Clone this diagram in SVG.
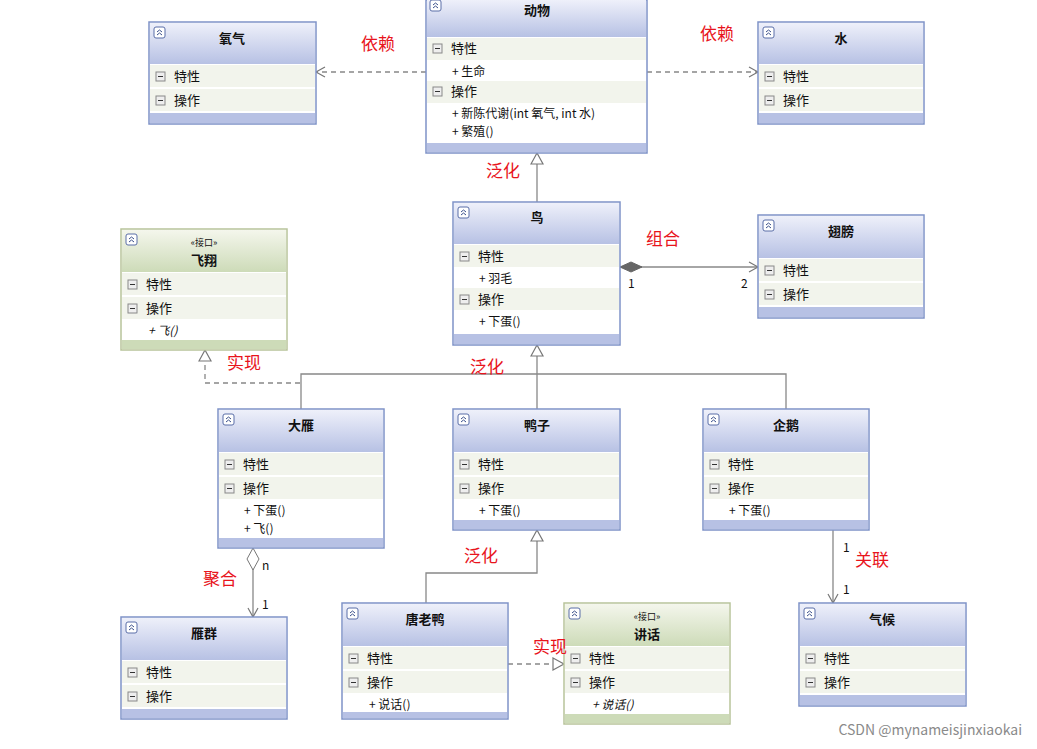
<svg xmlns="http://www.w3.org/2000/svg" width="1037" height="749" viewBox="0 0 1037 749">
<defs>
<linearGradient id="hb" x1="0" y1="0" x2="0" y2="1"><stop offset="0" stop-color="#eef0fa"/><stop offset="1" stop-color="#b7c1e4"/></linearGradient>
<linearGradient id="hg" x1="0" y1="0" x2="0" y2="1"><stop offset="0" stop-color="#f4f6ec"/><stop offset="1" stop-color="#cddbb8"/></linearGradient>
<marker id="open" markerWidth="12" markerHeight="12" refX="10" refY="6" orient="auto" markerUnits="userSpaceOnUse"><path d="M1,1 L10,6 L1,11" fill="none" stroke="#777" stroke-width="1.2"/></marker>
<marker id="tri" markerWidth="14" markerHeight="14" refX="12" refY="7" orient="auto" markerUnits="userSpaceOnUse"><path d="M1,1 L12,7 L1,13 Z" fill="#fff" stroke="#777" stroke-width="1.2"/></marker>
<marker id="dia" markerWidth="24" markerHeight="12" refX="1" refY="6" orient="auto" markerUnits="userSpaceOnUse"><path d="M1,6 L12,1 L23,6 L12,11 Z" fill="#666" stroke="#666"/></marker>
<marker id="hdia" markerWidth="24" markerHeight="14" refX="1" refY="7" orient="auto" markerUnits="userSpaceOnUse"><path d="M1,7 L12,1 L23,7 L12,13 Z" fill="#fff" stroke="#777"/></marker>
<g id="ico"><rect x="0" y="0" width="11" height="11" rx="2" fill="#fff" stroke="#5a6ea8"/><path d="M3,5 L5.5,3 L8,5 M3,8 L5.5,6 L8,8" fill="none" stroke="#3a4f8a"/></g>
<g id="minus"><rect x="0" y="0" width="9" height="9" fill="#eee" stroke="#888"/><line x1="2" y1="4.5" x2="7" y2="4.5" stroke="#333"/></g>
</defs>
<style>
.box{fill:#fff;stroke:#7f93c8;stroke-width:1.5}
.gbox{fill:#fff;stroke:#b8c49a;stroke-width:1.5}
.row{fill:#f2f4ec}
.foot{fill:#b7c1e4}
.gfoot{fill:#cddbb8}
text{font-family:"Noto Sans CJK SC","Liberation Sans",sans-serif;fill:#111}
.t{font-size:13px;font-weight:bold;text-anchor:middle}
.s{font-size:13px}
.i{font-size:12px}
.st{font-size:9px;text-anchor:middle}
.red{font-size:17px;fill:#e8141c}
.conn{fill:none;stroke:#888;stroke-width:1.3}
.dash{stroke-dasharray:5,4}
</style>
<rect width="1037" height="749" fill="#fff"/>
<g id="connectors">
<path class="conn dash" d="M426,72 H316" marker-end="url(#open)"/>
<path class="conn dash" d="M647,72 H758" marker-end="url(#open)"/>
<path class="conn" d="M537,202 V153" marker-end="url(#tri)"/>
<path class="conn" d="M620,267 H758" marker-start="url(#dia)" marker-end="url(#open)"/>
<path class="conn" d="M301,409 V374 H786 V409 M537,409 V374"/>
<path class="conn" d="M537,374 V345" marker-end="url(#tri)"/>
<path class="conn dash" d="M300,383 H205 V350" marker-end="url(#tri)"/>
<path class="conn" d="M253,548 V617" marker-start="url(#hdia)" marker-end="url(#open)"/>
<path class="conn" d="M426,603 V573 H537 V530" marker-end="url(#tri)"/>
<path class="conn dash" d="M508,664 H564" marker-end="url(#tri)"/>
<path class="conn" d="M833,530 V603" marker-end="url(#open)"/>
</g>
<g id="n-yangqi">
<rect class="box" x="149" y="22" width="167" height="102"/><rect x="150" y="23" width="165" height="41" fill="url(#hb)"/>
<rect class="row" x="150" y="65" width="165" height="22"/><rect class="row" x="150" y="89" width="165" height="22"/><rect class="foot" x="150" y="113" width="165" height="10"/>
<use href="#ico" x="154" y="27"/><text class="t" x="232" y="43">氧气</text>
<use href="#minus" x="156" y="72"/><text class="s" x="174" y="81">特性</text>
<use href="#minus" x="156" y="96"/><text class="s" x="174" y="105">操作</text>
</g>
<g id="n-dongwu">
<rect class="box" x="426" y="0" width="221" height="153"/><rect x="427" y="0" width="219" height="37" fill="url(#hb)"/>
<rect class="row" x="427" y="38" width="219" height="22"/><rect class="row" x="427" y="81" width="219" height="22"/><rect class="foot" x="427" y="143" width="219" height="9"/>
<use href="#ico" x="430" y="0"/><text class="t" x="537" y="15">动物</text>
<use href="#minus" x="433" y="44"/><text class="s" x="451" y="53">特性</text>
<text class="i" x="452" y="76">+ 生命</text>
<use href="#minus" x="433" y="87"/><text class="s" x="451" y="96">操作</text>
<text class="i" x="452" y="118">+ 新陈代谢(int 氧气, int 水)</text>
<text class="i" x="452" y="136">+ 繁殖()</text>
</g>
<g id="n-shui">
<rect class="box" x="758" y="22" width="166" height="102"/><rect x="759" y="23" width="164" height="41" fill="url(#hb)"/>
<rect class="row" x="759" y="65" width="164" height="22"/><rect class="row" x="759" y="89" width="164" height="22"/><rect class="foot" x="759" y="113" width="164" height="10"/>
<use href="#ico" x="763" y="27"/><text class="t" x="841" y="43">水</text>
<use href="#minus" x="765" y="72"/><text class="s" x="783" y="81">特性</text>
<use href="#minus" x="765" y="96"/><text class="s" x="783" y="105">操作</text>
</g>
<g id="n-niao">
<rect class="box" x="453" y="202" width="167" height="143"/><rect x="454" y="203" width="165" height="41" fill="url(#hb)"/>
<rect class="row" x="454" y="245" width="165" height="22"/><rect class="row" x="454" y="288" width="165" height="22"/><rect class="foot" x="454" y="334" width="165" height="10"/>
<use href="#ico" x="458" y="207"/><text class="t" x="537" y="222">鸟</text>
<use href="#minus" x="460" y="252"/><text class="s" x="478" y="261">特性</text>
<text class="i" x="479" y="283">+ 羽毛</text>
<use href="#minus" x="460" y="295"/><text class="s" x="478" y="304">操作</text>
<text class="i" x="479" y="326">+ 下蛋()</text>
</g>
<g id="n-chibang">
<rect class="box" x="758" y="215" width="166" height="103"/><rect x="759" y="216" width="164" height="42" fill="url(#hb)"/>
<rect class="row" x="759" y="259" width="164" height="22"/><rect class="row" x="759" y="283" width="164" height="22"/><rect class="foot" x="759" y="307" width="164" height="10"/>
<use href="#ico" x="763" y="220"/><text class="t" x="841" y="236">翅膀</text>
<use href="#minus" x="765" y="266"/><text class="s" x="783" y="275">特性</text>
<use href="#minus" x="765" y="290"/><text class="s" x="783" y="299">操作</text>
</g>
<g id="n-feixiang">
<rect class="gbox" x="121" y="229" width="166" height="121"/><rect x="122" y="230" width="164" height="42" fill="url(#hg)"/>
<rect class="row" x="122" y="273" width="164" height="22"/><rect class="row" x="122" y="297" width="164" height="22"/><rect class="gfoot" x="122" y="340" width="164" height="9"/>
<use href="#ico" x="126" y="234"/><text class="st" x="204" y="246">«接口»</text><text class="t" x="204" y="265">飞翔</text>
<use href="#minus" x="128" y="280"/><text class="s" x="146" y="289">特性</text>
<use href="#minus" x="128" y="304"/><text class="s" x="146" y="313">操作</text>
<text class="i" x="148" y="335" font-style="italic">+ 飞()</text>
</g>
<g id="n-dayan">
<rect class="box" x="218" y="409" width="166" height="139"/><rect x="219" y="410" width="164" height="42" fill="url(#hb)"/>
<rect class="row" x="219" y="453" width="164" height="22"/><rect class="row" x="219" y="477" width="164" height="22"/><rect class="foot" x="219" y="538" width="164" height="9"/>
<use href="#ico" x="223" y="414"/><text class="t" x="301" y="430">大雁</text>
<use href="#minus" x="225" y="460"/><text class="s" x="243" y="469">特性</text>
<use href="#minus" x="225" y="484"/><text class="s" x="243" y="493">操作</text>
<text class="i" x="244" y="515">+ 下蛋()</text><text class="i" x="244" y="533">+ 飞()</text>
</g>
<g id="n-yazi">
<rect class="box" x="453" y="409" width="167" height="121"/><rect x="454" y="410" width="165" height="42" fill="url(#hb)"/>
<rect class="row" x="454" y="453" width="165" height="22"/><rect class="row" x="454" y="477" width="165" height="22"/><rect class="foot" x="454" y="520" width="165" height="9"/>
<use href="#ico" x="458" y="414"/><text class="t" x="537" y="430">鸭子</text>
<use href="#minus" x="460" y="460"/><text class="s" x="478" y="469">特性</text>
<use href="#minus" x="460" y="484"/><text class="s" x="478" y="493">操作</text>
<text class="i" x="479" y="515">+ 下蛋()</text>
</g>
<g id="n-qie">
<rect class="box" x="703" y="409" width="166" height="121"/><rect x="704" y="410" width="164" height="42" fill="url(#hb)"/>
<rect class="row" x="704" y="453" width="164" height="22"/><rect class="row" x="704" y="477" width="164" height="22"/><rect class="foot" x="704" y="520" width="164" height="9"/>
<use href="#ico" x="708" y="414"/><text class="t" x="786" y="430">企鹅</text>
<use href="#minus" x="710" y="460"/><text class="s" x="728" y="469">特性</text>
<use href="#minus" x="710" y="484"/><text class="s" x="728" y="493">操作</text>
<text class="i" x="729" y="515">+ 下蛋()</text>
</g>
<g id="n-yanqun">
<rect class="box" x="121" y="617" width="166" height="102"/><rect x="122" y="618" width="164" height="42" fill="url(#hb)"/>
<rect class="row" x="122" y="661" width="164" height="22"/><rect class="row" x="122" y="685" width="164" height="22"/><rect class="foot" x="122" y="709" width="164" height="9"/>
<use href="#ico" x="126" y="622"/><text class="t" x="204" y="638">雁群</text>
<use href="#minus" x="128" y="668"/><text class="s" x="146" y="677">特性</text>
<use href="#minus" x="128" y="692"/><text class="s" x="146" y="701">操作</text>
</g>
<g id="n-tanglaoya">
<rect class="box" x="342" y="603" width="166" height="116"/><rect x="343" y="604" width="164" height="42" fill="url(#hb)"/>
<rect class="row" x="343" y="647" width="164" height="22"/><rect class="row" x="343" y="671" width="164" height="22"/><rect class="foot" x="343" y="712" width="164" height="6"/>
<use href="#ico" x="347" y="608"/><text class="t" x="425" y="624">唐老鸭</text>
<use href="#minus" x="349" y="654"/><text class="s" x="367" y="663">特性</text>
<use href="#minus" x="349" y="678"/><text class="s" x="367" y="687">操作</text>
<text class="i" x="369" y="709">+ 说话()</text>
</g>
<g id="n-jianghua">
<rect class="gbox" x="564" y="603" width="166" height="121"/><rect x="565" y="604" width="164" height="42" fill="url(#hg)"/>
<rect class="row" x="565" y="647" width="164" height="22"/><rect class="row" x="565" y="671" width="164" height="22"/><rect class="gfoot" x="565" y="714" width="164" height="9"/>
<use href="#ico" x="569" y="608"/><text class="st" x="647" y="620">«接口»</text><text class="t" x="647" y="639">讲话</text>
<use href="#minus" x="571" y="654"/><text class="s" x="589" y="663">特性</text>
<use href="#minus" x="571" y="678"/><text class="s" x="589" y="687">操作</text>
<text class="i" x="592" y="709" font-style="italic">+ 说话()</text>
</g>
<g id="n-qihou">
<rect class="box" x="799" y="603" width="167" height="103"/><rect x="800" y="604" width="165" height="42" fill="url(#hb)"/>
<rect class="row" x="800" y="647" width="165" height="22"/><rect class="row" x="800" y="671" width="165" height="22"/><rect class="foot" x="800" y="695" width="165" height="10"/>
<use href="#ico" x="804" y="608"/><text class="t" x="882" y="624">气候</text>
<use href="#minus" x="806" y="654"/><text class="s" x="824" y="663">特性</text>
<use href="#minus" x="806" y="678"/><text class="s" x="824" y="687">操作</text>
</g>
<g id="labels">
<text class="red" x="361" y="50">依赖</text>
<text class="red" x="700" y="40">依赖</text>
<text class="red" x="486" y="177">泛化</text>
<text class="red" x="646" y="245">组合</text>
<text class="red" x="227" y="369">实现</text>
<text class="red" x="470" y="373" font-size="15">泛化</text>
<text class="red" x="464" y="562">泛化</text>
<text class="red" x="203" y="585">聚合</text>
<text class="red" x="533" y="653">实现</text>
<text class="red" x="855" y="566">关联</text>
<text class="i" x="628" y="288">1</text><text class="i" x="741" y="288">2</text>
<text class="i" x="262" y="570">n</text><text class="i" x="262" y="609">1</text>
<text class="i" x="843" y="552">1</text><text class="i" x="843" y="594">1</text>
<text x="1022" y="735" font-size="14" fill="#888" style="fill:#8a8a8a" text-anchor="end">CSDN @mynameisjinxiaokai</text>
</g>
</svg>
